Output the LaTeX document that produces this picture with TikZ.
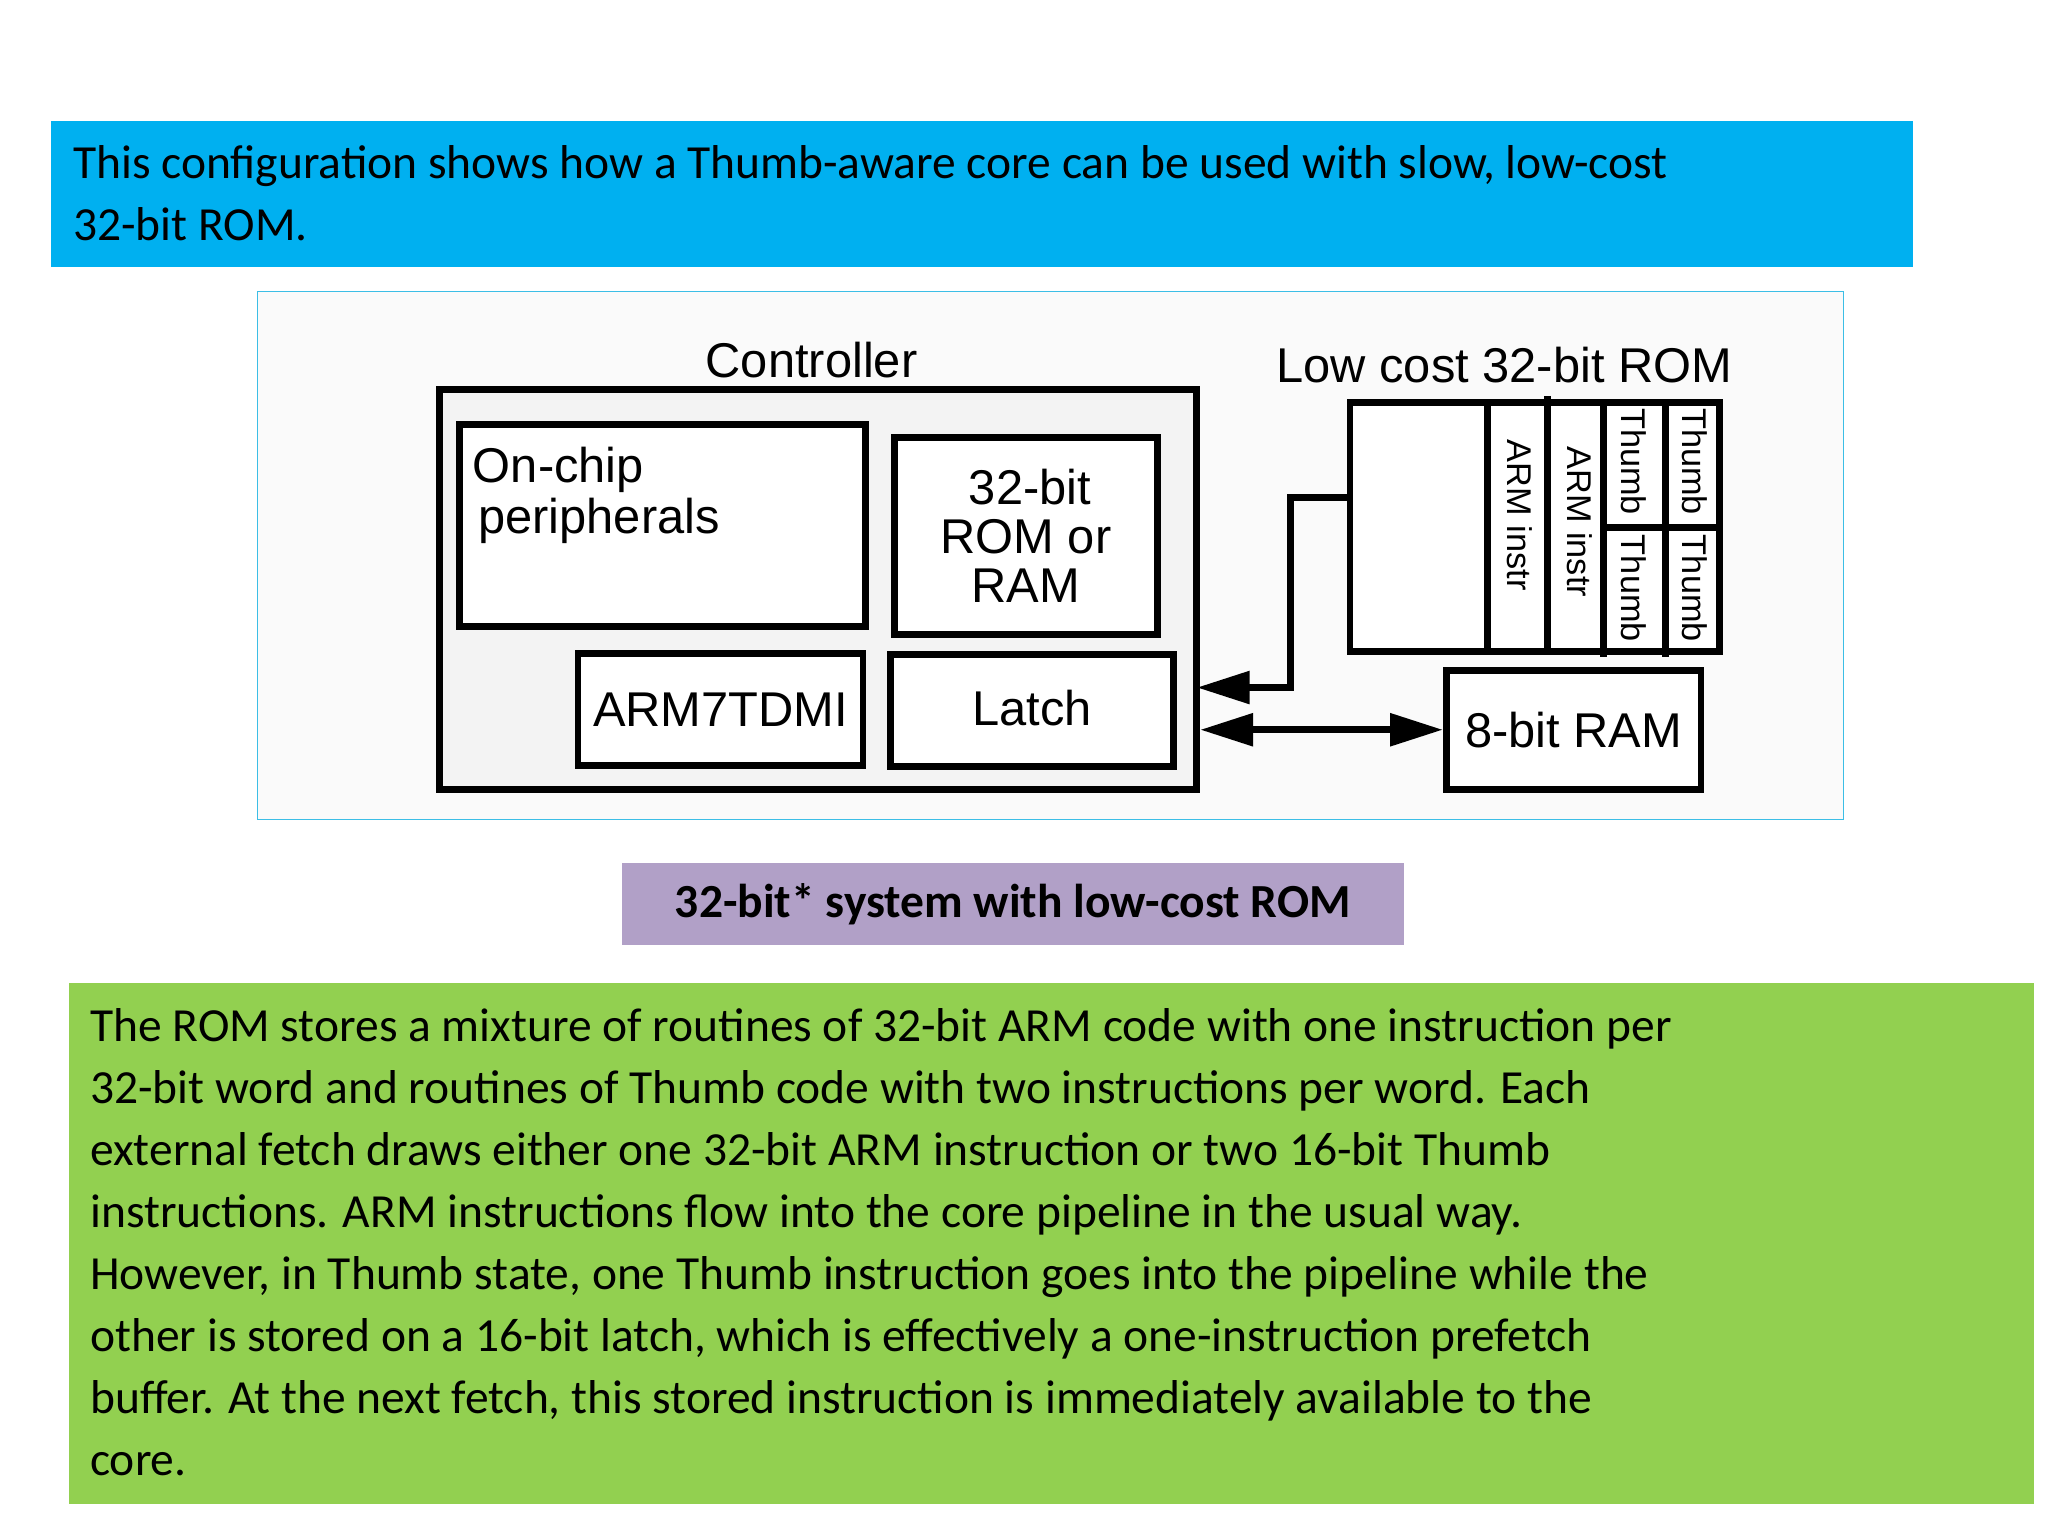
\documentclass[tikz,border=0pt]{standalone}
\usepackage{fontspec}
\setmainfont{Carlito}
\newfontfamily\arial{Liberation Sans}
\usetikzlibrary{arrows.meta}
\begin{document}
\begin{tikzpicture}[x=0.5pt,y=-0.5pt,
  box/.style={draw=black,line width=2.6pt,inner sep=0pt},
  dtext/.style={font=\arial\fontsize{18.5}{19}\selectfont,inner sep=0pt},
  rtext/.style={font=\arial\fontsize{13}{14}\selectfont,inner sep=0pt,rotate=-90,anchor=west},
  ptext/.style={font=\fontsize{18}{22}\selectfont,inner sep=0pt,anchor=base west},
  conn/.style={line width=2.6pt},
  tip/.style={Triangle[length=20pt,width=11pt]}]
\path[use as bounding box,fill=white] (0,0) rectangle (1552,1164);
% header
\node[fill={rgb,255:red,0;green,176;blue,240},minimum width=705.5pt,minimum height=55pt,inner sep=0] (hdr) at (744.5,147) {};
\node[ptext] (h1) at (55,135) {This configuration shows how a Thumb-aware core can be used with slow, low-cost};
\node[ptext] (h2) at (55,182) {32-bit ROM.};
% frame
\node[draw={rgb,255:red,60;green,190;blue,230},line width=0.6pt,fill={rgb,255:red,250;green,250;blue,250},minimum width=601pt,minimum height=200pt,inner sep=0] (frame) at (796,421) {};
% controller
\node[box,fill={rgb,255:red,243;green,243;blue,243},minimum width=287pt,minimum height=151.5pt] (ctrl) at (620,446.5) {};
\node[dtext] (ctrll) at (615,273) {Controller};
\node[box,fill=white,minimum width=154pt,minimum height=76.5pt] (onchip) at (502,398.5) {};
\node[dtext,anchor=west] (oc1) at (358,356) {On-chip};
\node[dtext,anchor=west] (oc2) at (362,395) {peripherals};
\node[box,fill=white,minimum width=99.5pt,minimum height=74.5pt,dtext,align=center,font=\arial\fontsize{18.5}{18.5}\selectfont,line width=2.6pt] (romram) at (777.5,406) {\,32-bit\\ROM or\\RAM};
\node[box,fill=white,minimum width=108pt,minimum height=42.5pt,font=\arial\fontsize{18.5}{19}\selectfont] (arm) at (546,537.5) {ARM7TDMI};
\node[box,fill=white,minimum width=107pt,minimum height=42.5pt,font=\arial\fontsize{18.5}{19}\selectfont] (latch) at (782,538.5) {\raisebox{2pt}{Latch}};
% ROM
\node[box,fill=white,minimum width=140pt,minimum height=94.5pt] (rom) at (1163,399.5) {};
\node[dtext] (roml) at (1140,277) {Low cost 32-bit ROM};
\coordinate (s1t) at (1127,305); \coordinate (s1b) at (1127,494);
\coordinate (s2t) at (1173,300); \coordinate (s2b) at (1173,494);
\coordinate (s3t) at (1215,305); \coordinate (s3b) at (1215,498);
\coordinate (s4t) at (1262,305); \coordinate (s4b) at (1262,498);
\coordinate (hl) at (1215,400); \coordinate (hr) at (1303,400);
\draw[conn] (s1t) -- (s1b) (s2t) -- (s2b) (s3t) -- (s3b) (s4t) -- (s4b) (hl) -- (hr);
\node[rtext] (a1) at (1152,333) {ARM instr};
\node[rtext] (a2) at (1197,338) {ARM instr};
\node[rtext] (t1) at (1238,309) {Thumb};
\node[rtext] (t2) at (1238,405) {Thumb};
\node[rtext] (t3) at (1284,309) {Thumb};
\node[rtext] (t4) at (1284,405) {Thumb};
% RAM
\node[box,fill=white,minimum width=96.5pt,minimum height=45pt,font=\arial\fontsize{18.5}{19}\selectfont] (ram) at (1192.5,553) {8-bit RAM};
% connectors
\coordinate (bend) at (978,377);
\coordinate (ctin) at (907,521);
\draw[conn,-{Triangle[length=20pt,width=12pt]}] (rom.west |- bend) -- (bend) |- (ctin);
\draw[conn,{Triangle[length=20pt,width=12pt]}-{Triangle[length=20pt,width=12pt]}] (ctrl.east |- ram) -- (ram.west);
% caption
\node[fill={rgb,255:red,177;green,160;blue,199},minimum width=296.5pt,minimum height=31pt,inner sep=0,font=\bfseries\fontsize{18}{20}\selectfont] (cap) at (767.5,685) {32-bit* system with low-cost ROM};
% green
\node[fill={rgb,255:red,146;green,208;blue,80},minimum width=744.5pt,minimum height=197.5pt,inner sep=0] (grn) at (796.5,942.5) {};
\node[ptext] (g1) at (68,789) {The ROM stores a mixture of routines of 32-bit ARM code with one instruction per};
\node[ptext] (g2) at (68,836) {32-bit word and routines of Thumb code with two instructions per word. Each};
\node[ptext] (g3) at (68,883) {external fetch draws either one 32-bit ARM instruction or two 16-bit Thumb};
\node[ptext] (g4) at (68,930) {instructions. ARM instructions flow into the core pipeline in the usual way.};
\node[ptext] (g5) at (68,977) {However, in Thumb state, one Thumb instruction goes into the pipeline while the};
\node[ptext] (g6) at (68,1024) {other is stored on a 16-bit latch, which is effectively a one-instruction prefetch};
\node[ptext] (g7) at (68,1071) {buffer. At the next fetch, this stored instruction is immediately available to the};
\node[ptext] (g8) at (68,1118) {core.};
\end{tikzpicture}
\end{document}
